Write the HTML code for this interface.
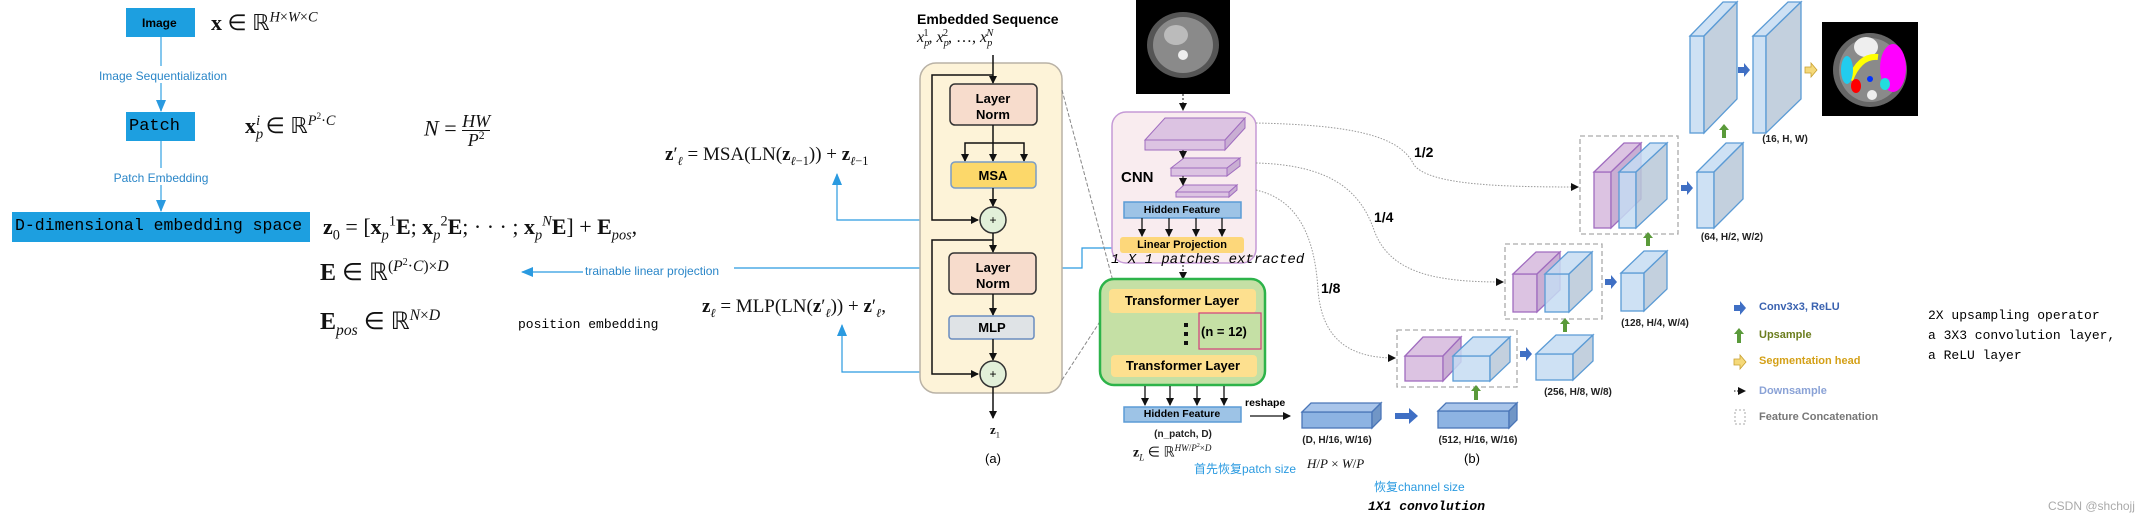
<!DOCTYPE html>
<html><head><meta charset="utf-8"><style>
body{margin:0;width:2139px;height:531px;background:#fff;position:relative;overflow:hidden;font-family:"Liberation Sans","Noto Sans CJK SC",sans-serif}
.t{position:absolute;white-space:nowrap;line-height:1}
.m{font-family:"Liberation Serif",serif;font-size:22px;color:#111}
.m i{font-style:italic}
.m b{font-weight:bold}
.mono{font-family:"Liberation Mono","Noto Sans CJK SC",monospace}
.bl{color:#2a86c8;font-size:12px}
.sm{font-size:10px;font-weight:bold;color:#222}
.c{transform:translateX(-50%)}
sup,sub{font-size:65%;line-height:0}
</style></head><body>
<svg width="2139" height="531" style="position:absolute;left:0;top:0">
<defs>
<marker id="ab" markerWidth="8" markerHeight="8" refX="7" refY="4" orient="auto" markerUnits="userSpaceOnUse"><path d="M0,0L8,4L0,8z" fill="#111"/></marker>
<marker id="ablue" markerWidth="12" markerHeight="10" refX="11" refY="5" orient="auto" markerUnits="userSpaceOnUse"><path d="M0,0L12,5L0,10z" fill="#2a9ae0"/></marker>
</defs>
<!-- left flow -->
<rect x="126" y="8" width="69" height="29" fill="#1d9fe0"/>
<rect x="126" y="112" width="69" height="29" fill="#1d9fe0"/>
<rect x="12" y="212" width="298" height="30" fill="#1d9fe0"/>
<line x1="161" y1="37" x2="161" y2="66" stroke="#5ab4e8" stroke-width="1.5"/>
<line x1="161" y1="83" x2="161" y2="111" stroke="#5ab4e8" stroke-width="1.5" marker-end="url(#ablue)"/>
<line x1="161" y1="141" x2="161" y2="168" stroke="#5ab4e8" stroke-width="1.5"/>
<line x1="161" y1="185" x2="161" y2="211" stroke="#5ab4e8" stroke-width="1.5" marker-end="url(#ablue)"/>
<!-- trainable projection line -->
<polyline points="1116,248 1082,248 1082,268 734,268" fill="none" stroke="#2a9ae0" stroke-width="1.2"/>
<line x1="583" y1="272" x2="522" y2="272" stroke="#2a9ae0" stroke-width="1.2" marker-end="url(#ablue)"/>
<!-- blue feedback arrows -->
<polyline points="979,220 837,220 837,174" fill="none" stroke="#2a9ae0" stroke-width="1.2" marker-end="url(#ablue)"/>
<polyline points="979,372 842,372 842,325" fill="none" stroke="#2a9ae0" stroke-width="1.2" marker-end="url(#ablue)"/>
<!-- transformer block (a) -->
<rect x="920" y="63" width="142" height="330" rx="16" fill="#fdf3d8" stroke="#b9b2a6" stroke-width="1.5"/>
<line x1="993" y1="55" x2="993" y2="83" stroke="#111" stroke-width="1.5" marker-end="url(#ab)"/>
<polyline points="993,75 932,75 932,220 978,220" fill="none" stroke="#111" stroke-width="1.5" marker-end="url(#ab)"/>
<rect x="950" y="84" width="87" height="41" rx="5" fill="#f7dccc" stroke="#333" stroke-width="1.5"/>
<line x1="993" y1="125" x2="993" y2="161" stroke="#111" stroke-width="1.5" marker-end="url(#ab)"/>
<polyline points="965,161 965,143 1024,143 1024,161" fill="none" stroke="#111" stroke-width="1.5"/>
<path d="M961,154L965,162L969,154zM1020,154L1024,162L1028,154z" fill="#111"/>
<rect x="951" y="162" width="85" height="26" rx="4" fill="#fcd86a" stroke="#7a9cc6" stroke-width="1.5"/>
<line x1="993" y1="188" x2="993" y2="206" stroke="#111" stroke-width="1.5" marker-end="url(#ab)"/>
<circle cx="993" cy="220" r="13" fill="#e2f0d9" stroke="#333" stroke-width="1.5"/>
<line x1="993" y1="233" x2="993" y2="252" stroke="#111" stroke-width="1.5" marker-end="url(#ab)"/>
<polyline points="993,240 932,240 932,374 978,374" fill="none" stroke="#111" stroke-width="1.5" marker-end="url(#ab)"/>
<rect x="949" y="253" width="87" height="41" rx="5" fill="#f7dccc" stroke="#333" stroke-width="1.5"/>
<line x1="993" y1="294" x2="993" y2="315" stroke="#111" stroke-width="1.5" marker-end="url(#ab)"/>
<rect x="949" y="316" width="85" height="23" rx="3" fill="#dfe3e6" stroke="#6a8cbf" stroke-width="1.5"/>
<line x1="993" y1="339" x2="993" y2="360" stroke="#111" stroke-width="1.5" marker-end="url(#ab)"/>
<circle cx="993" cy="374" r="13" fill="#e2f0d9" stroke="#333" stroke-width="1.5"/>
<line x1="993" y1="387" x2="993" y2="418" stroke="#111" stroke-width="1.5" marker-end="url(#ab)"/>
<line x1="1062" y1="90" x2="1114" y2="285" stroke="#888" stroke-width="1" stroke-dasharray="4,2"/>
<line x1="1062" y1="380" x2="1114" y2="300" stroke="#888" stroke-width="1" stroke-dasharray="4,2"/>
<!-- CT image -->
<rect x="1136" y="0" width="94" height="94" fill="#000"/>
<ellipse cx="1183" cy="45" rx="36" ry="33" fill="#555"/>
<ellipse cx="1183" cy="45" rx="30" ry="28" fill="#8a8a8a"/>
<ellipse cx="1176" cy="35" rx="12" ry="10" fill="#bbb"/>
<circle cx="1183" cy="55" r="5" fill="#eee"/>
<line x1="1183" y1="94" x2="1183" y2="110" stroke="#111" stroke-dasharray="2,2" marker-end="url(#ab)"/>
<!-- CNN box -->
<rect x="1112" y="112" width="144" height="151" rx="14" fill="#f9ecef" stroke="#c59ad6" stroke-width="1.5"/>
<g fill="#dcc3e2" stroke="#a06cbf" stroke-width="1">
<rect x="1145" y="140" width="80" height="10"/><polygon points="1145,140 1165,118 1245,118 1225,140"/><polygon points="1225,140 1245,118 1245,128 1225,150" fill="#c9aed3"/>
<rect x="1171" y="168" width="56" height="8"/><polygon points="1171,168 1184,158 1240,158 1227,168"/><polygon points="1227,168 1240,158 1240,166 1227,176" fill="#c9aed3"/>
<rect x="1176" y="192" width="53" height="5"/><polygon points="1176,192 1184,185 1237,185 1229,192"/><polygon points="1229,192 1237,185 1237,190 1229,197" fill="#c9aed3"/>
</g>
<line x1="1183" y1="150" x2="1183" y2="158" stroke="#111" marker-end="url(#ab)"/>
<line x1="1183" y1="176" x2="1183" y2="185" stroke="#111" marker-end="url(#ab)"/>
<rect x="1124" y="202" width="117" height="16" fill="#9dc3e6" stroke="#5b9bd5" stroke-width="1.5"/>
<g stroke="#111" stroke-width="1.3">
<line x1="1142" y1="218" x2="1142" y2="236" marker-end="url(#ab)"/><line x1="1169" y1="218" x2="1169" y2="236" marker-end="url(#ab)"/><line x1="1196" y1="218" x2="1196" y2="236" marker-end="url(#ab)"/><line x1="1222" y1="218" x2="1222" y2="236" marker-end="url(#ab)"/>
</g>
<rect x="1120" y="237" width="124" height="16" rx="3" fill="#fdd77a"/>
<line x1="1183" y1="265" x2="1183" y2="279" stroke="#111" stroke-dasharray="2,2" marker-end="url(#ab)"/>
<!-- transformer green -->
<rect x="1100" y="279" width="165" height="106" rx="14" fill="#c5e0a5" stroke="#2db34a" stroke-width="2.5"/>
<rect x="1109" y="289" width="147" height="24" rx="4" fill="#fde08f"/>
<rect x="1111" y="355" width="146" height="22" rx="4" fill="#fde08f"/>
<rect x="1199" y="313" width="62" height="36" fill="none" stroke="#d43c7c" stroke-width="1.2"/>
<g fill="#111"><rect x="1184" y="323" width="4" height="4"/><rect x="1184" y="332" width="4" height="4"/><rect x="1184" y="341" width="4" height="4"/></g>
<g stroke="#111" stroke-width="1.3">
<line x1="1145" y1="386" x2="1145" y2="405" marker-end="url(#ab)"/><line x1="1170" y1="386" x2="1170" y2="405" marker-end="url(#ab)"/><line x1="1197" y1="386" x2="1197" y2="405" marker-end="url(#ab)"/><line x1="1224" y1="386" x2="1224" y2="405" marker-end="url(#ab)"/>
<line x1="1250" y1="416" x2="1290" y2="416" marker-end="url(#ab)"/>
</g>
<rect x="1124" y="407" width="117" height="15" fill="#9dc3e6" stroke="#5b9bd5" stroke-width="1.5"/>
<!-- dotted skip curves -->
<g fill="none" stroke="#999" stroke-width="1" stroke-dasharray="1.5,1.5">
<path d="M1256,123 C1350,125 1400,135 1414,165 C1430,185 1500,187 1578,187" marker-end="url(#ab)"/>
<path d="M1256,163 C1330,165 1360,190 1374,230 C1390,275 1440,282 1503,282" marker-end="url(#ab)"/>
<path d="M1256,190 C1300,200 1315,240 1318,290 C1322,340 1350,358 1395,358" marker-end="url(#ab)"/>
</g>
<!-- decoder cubes -->
<g stroke-width="1.3">
<g fill="#8db3e2" stroke="#4a76b8">
<rect x="1302" y="412" width="70" height="16"/><polygon points="1302,412 1311,403 1381,403 1372,412" fill="#a9c5ea"/><polygon points="1372,412 1381,403 1381,419 1372,428" fill="#7196c6"/>
<rect x="1438" y="411" width="71" height="17"/><polygon points="1438,411 1446,403 1517,403 1509,411" fill="#a9c5ea"/><polygon points="1509,411 1517,403 1517,420 1509,428" fill="#7196c6"/>
</g>
<g fill="#dcc3e2" stroke="#a06cbf">
<rect x="1405" y="356" width="38" height="25"/><polygon points="1405,356 1423,337 1461,337 1443,356"/><polygon points="1443,356 1461,337 1461,362 1443,381" fill="#c9aed3"/>
<rect x="1513" y="274" width="24" height="38"/><polygon points="1513,274 1536,252 1560,252 1537,274"/><polygon points="1537,274 1560,252 1560,290 1537,312" fill="#c9aed3"/>
<rect x="1594" y="172" width="17" height="56"/><polygon points="1594,172 1624,143 1641,143 1611,172"/><polygon points="1611,172 1641,143 1641,199 1611,228" fill="#c9aed3"/>
</g>
<g fill="#c5dcf2" stroke="#5b9bd5" fill-opacity="0.85">
<rect x="1453" y="356" width="37" height="25"/><polygon points="1453,356 1473,337 1510,337 1490,356"/><polygon points="1490,356 1510,337 1510,362 1490,381" fill="#b8c8d8"/>
<rect x="1536" y="354" width="37" height="26"/><polygon points="1536,354 1556,335 1593,335 1573,354"/><polygon points="1573,354 1593,335 1593,361 1573,380" fill="#b8c8d8"/>
<rect x="1545" y="274" width="24" height="38"/><polygon points="1545,274 1568,252 1592,252 1569,274"/><polygon points="1569,274 1592,252 1592,290 1569,312" fill="#b8c8d8"/>
<rect x="1621" y="273" width="23" height="38"/><polygon points="1621,273 1644,251 1667,251 1644,273"/><polygon points="1644,273 1667,251 1667,289 1644,311" fill="#b8c8d8"/>
<rect x="1619" y="172" width="17" height="56"/><polygon points="1619,172 1650,143 1667,143 1636,172"/><polygon points="1636,172 1667,143 1667,199 1636,228" fill="#b8c8d8"/>
<rect x="1697" y="172" width="17" height="56"/><polygon points="1697,172 1726,143 1743,143 1714,172"/><polygon points="1714,172 1743,143 1743,199 1714,228" fill="#b8c8d8"/>
<rect x="1690" y="36" width="14" height="97"/><polygon points="1690,36 1723,2 1737,2 1704,36"/><polygon points="1704,36 1737,2 1737,99 1704,133" fill="#b8c8d8"/>
<rect x="1753" y="36" width="13" height="97"/><polygon points="1753,36 1788,2 1801,2 1766,36"/><polygon points="1766,36 1801,2 1801,99 1766,133" fill="#b8c8d8"/>
</g>
</g>
<g fill="none" stroke="#aaa" stroke-width="1.3" stroke-dasharray="5,3">
<rect x="1397" y="330" width="120" height="57"/>
<rect x="1505" y="244" width="97" height="75"/>
<rect x="1580" y="136" width="98" height="98"/>
</g>
<!-- blue fat arrows -->
<g fill="#3f6fc4">
<path d="M1395,413h14v-5l9,8l-9,8v-5h-14z"/>
<path d="M1520,351h6v-4l6,7l-6,7v-4h-6z"/>
<path d="M1605,279h6v-4l6,7l-6,7v-4h-6z"/>
<path d="M1681,185h6v-4l6,7l-6,7v-4h-6z"/>
<path d="M1738,67h6v-4l6,7l-6,7v-4h-6z"/>
<path d="M1734,305h6v-4l6,7l-6,7v-4h-6z"/>
</g>
<path d="M1805,67h6v-4l6,7l-6,7v-4h-6z" fill="#f5d97a" stroke="#c8a030" stroke-width="0.8"/>
<path d="M1734,359h6v-4l6,7l-6,7v-4h-6z" fill="#f5d97a" stroke="#c8a030" stroke-width="0.8"/>
<g fill="#5a9a3a">
<path d="M1474,400v-9h-3l5,-6l5,6h-3v9z"/>
<path d="M1563,332v-8h-3l5,-6l5,6h-3v8z"/>
<path d="M1646,246v-8h-3l5,-6l5,6h-3v8z"/>
<path d="M1722,138v-8h-3l5,-6l5,6h-3v8z"/>
<path d="M1737,343v-9h-3l5,-6l5,6h-3v9z"/>
</g>
<line x1="1734" y1="391" x2="1745" y2="391" stroke="#111" stroke-dasharray="1.5,1.5" marker-end="url(#ab)"/>
<rect x="1735" y="410" width="10" height="14" fill="none" stroke="#aaa" stroke-dasharray="2,2"/>
<!-- segmentation output -->
<rect x="1822" y="22" width="96" height="94" fill="#000"/>
<ellipse cx="1870" cy="70" rx="37" ry="37" fill="#666"/>
<ellipse cx="1870" cy="70" rx="31" ry="32" fill="#8a8a8a"/>
<ellipse cx="1866" cy="47" rx="12" ry="10" fill="#eee"/>
<ellipse cx="1893" cy="68" rx="13" ry="24" fill="#ff00ff"/>
<path d="M1850,80 Q1860,55 1878,57" stroke="#ffff00" stroke-width="6" fill="none"/>
<ellipse cx="1847" cy="70" rx="6" ry="14" fill="#22ccee"/>
<ellipse cx="1856" cy="86" rx="5" ry="7" fill="#ff0000"/>
<ellipse cx="1885" cy="84" rx="5" ry="6" fill="#22dddd"/>
<circle cx="1870" cy="79" r="3" fill="#0033ff"/>
<circle cx="1872" cy="95" r="5" fill="#eee"/>
</svg>

<!-- left texts -->
<div class="t" style="left:142px;top:17px;font-size:12px;font-weight:bold">Image</div>
<div class="t bl c" style="left:163px;top:69px;background:#fff;padding:1px 0">Image Sequentialization</div>
<div class="t mono" style="left:129px;top:118px;font-size:17px">Patch</div>
<div class="t bl c" style="left:161px;top:171px;background:#fff;padding:1px 0">Patch Embedding</div>
<div class="t mono" style="left:15px;top:218px;font-size:16.5px">D-dimensional embedding space</div>
<div class="t m" style="left:211px;top:12px"><b>x</b> ∈ ℝ<sup><i>H</i>×<i>W</i>×<i>C</i></sup></div>
<div class="t m" style="left:245px;top:115px"><b>x</b><sub><i>p</i></sub><sup style="margin-left:-7px"><i>i</i></sup> ∈ ℝ<sup><i>P</i><sup>2</sup>·<i>C</i></sup></div>
<div class="t m" style="left:424px;top:112px"><i>N</i> = <span style="display:inline-block;vertical-align:middle;text-align:center;font-size:18px;line-height:1"><span style="display:block;border-bottom:1px solid #111"><i>HW</i></span><i>P</i><sup>2</sup></span></div>
<div class="t m" style="left:323px;top:216px"><b>z</b><sub>0</sub> = [<b>x</b><sub><i>p</i></sub><sup>1</sup><b>E</b>; <b>x</b><sub><i>p</i></sub><sup>2</sup><b>E</b>; · · · ; <b>x</b><sub><i>p</i></sub><sup><i>N</i></sup><b>E</b>] + <b>E</b><sub><i>pos</i></sub>,</div>
<div class="t m" style="left:320px;top:261px;font-size:24px"><b>E</b> ∈ ℝ<sup>(<i>P</i><sup>2</sup>·<i>C</i>)×<i>D</i></sup></div>
<div class="t bl" style="left:585px;top:265px">trainable linear projection</div>
<div class="t m" style="left:320px;top:310px;font-size:24px"><b>E</b><sub><i>pos</i></sub> ∈ ℝ<sup><i>N</i>×<i>D</i></sup></div>
<div class="t mono" style="left:518px;top:318px;font-size:13px">position embedding</div>
<div class="t m" style="left:665px;top:145px;font-size:19px"><b>z</b>′<sub><i>ℓ</i></sub> = MSA(LN(<b>z</b><sub><i>ℓ</i>−1</sub>)) + <b>z</b><sub><i>ℓ</i>−1</sub></div>
<div class="t m" style="left:702px;top:297px;font-size:19px"><b>z</b><sub><i>ℓ</i></sub> = MLP(LN(<b>z</b>′<sub><i>ℓ</i></sub>)) + <b>z</b>′<sub><i>ℓ</i></sub>,</div>
<!-- (a) texts -->
<div class="t" style="left:917px;top:12px;font-size:14px;font-weight:bold">Embedded Sequence</div>
<div class="t m" style="left:917px;top:30px;font-size:16px"><i>x</i><sub><i>p</i></sub><sup style="margin-left:-6px">1</sup>, <i>x</i><sub><i>p</i></sub><sup style="margin-left:-6px">2</sup>, …, <i>x</i><sub><i>p</i></sub><sup style="margin-left:-6px"><i>N</i></sup></div>
<div class="t c" style="left:993px;top:91px;font-size:13px;font-weight:bold;text-align:center;line-height:16px">Layer<br>Norm</div>
<div class="t c" style="left:993px;top:169px;font-size:13px;font-weight:bold">MSA</div>
<div class="t c" style="left:993px;top:214px;font-size:12px">+</div>
<div class="t c" style="left:993px;top:260px;font-size:13px;font-weight:bold;text-align:center;line-height:16px">Layer<br>Norm</div>
<div class="t c" style="left:992px;top:321px;font-size:13px;font-weight:bold">MLP</div>
<div class="t c" style="left:993px;top:368px;font-size:12px">+</div>
<div class="t m c" style="left:995px;top:423px;font-size:13px"><b>z</b><sub>1</sub></div>
<div class="t c" style="left:993px;top:452px;font-size:13px">(a)</div>
<!-- CNN / transformer texts -->
<div class="t" style="left:1121px;top:170px;font-size:15px;font-weight:bold">CNN</div>
<div class="t c" style="left:1182px;top:205px;font-size:10.5px;font-weight:bold">Hidden Feature</div>
<div class="t c" style="left:1182px;top:240px;font-size:11px;font-weight:bold">Linear Projection</div>
<div class="t mono" style="left:1111px;top:253px;font-size:14px;font-style:italic">1 X 1 patches extracted</div>
<div class="t c" style="left:1182px;top:294px;font-size:13px;font-weight:bold">Transformer Layer</div>
<div class="t" style="left:1201px;top:325px;font-size:13px;font-weight:bold">(n = 12)</div>
<div class="t c" style="left:1183px;top:359px;font-size:13px;font-weight:bold">Transformer Layer</div>
<div class="t c" style="left:1182px;top:409px;font-size:10.5px;font-weight:bold">Hidden Feature</div>
<div class="t" style="left:1245px;top:398px;font-size:10.5px;font-weight:bold">reshape</div>
<div class="t c sm" style="left:1183px;top:430px">(n_patch, D)</div>
<div class="t m" style="left:1133px;top:446px;font-size:14px"><b>z</b><sub><i>L</i></sub> ∈ ℝ<sup><i>HW</i>/<i>P</i><sup>2</sup>×<i>D</i></sup></div>
<div class="t" style="left:1194px;top:463px;font-size:12px;color:#2a9ae0">首先恢复patch size</div>
<div class="t m" style="left:1307px;top:457px;font-size:13px"><i>H</i>/<i>P</i> × <i>W</i>/<i>P</i></div>
<div class="t" style="left:1374px;top:481px;font-size:12px;color:#2a9ae0">恢复channel size</div>
<div class="t mono" style="left:1368px;top:500px;font-size:13px;font-weight:bold;font-style:italic">1X1 convolution</div>
<!-- (b) labels -->
<div class="t c sm" style="left:1337px;top:436px">(D, H/16, W/16)</div>
<div class="t c sm" style="left:1478px;top:436px">(512, H/16, W/16)</div>
<div class="t c" style="left:1472px;top:452px;font-size:13px">(b)</div>
<div class="t c sm" style="left:1578px;top:388px">(256, H/8, W/8)</div>
<div class="t c sm" style="left:1655px;top:319px">(128, H/4, W/4)</div>
<div class="t c sm" style="left:1732px;top:233px">(64, H/2, W/2)</div>
<div class="t c sm" style="left:1785px;top:135px">(16, H, W)</div>
<div class="t" style="left:1414px;top:145px;font-size:14px;font-weight:bold">1/2</div>
<div class="t" style="left:1374px;top:210px;font-size:14px;font-weight:bold">1/4</div>
<div class="t" style="left:1321px;top:281px;font-size:14px;font-weight:bold">1/8</div>
<!-- legend -->
<div class="t" style="left:1759px;top:302px;font-size:11px;font-weight:bold;color:#3a62b0">Conv3x3, ReLU</div>
<div class="t" style="left:1759px;top:330px;font-size:11px;font-weight:bold;color:#6b7d1e">Upsample</div>
<div class="t" style="left:1759px;top:356px;font-size:11px;font-weight:bold;color:#d4a017">Segmentation head</div>
<div class="t" style="left:1759px;top:386px;font-size:11px;font-weight:bold;color:#8aa2d6">Downsample</div>
<div class="t" style="left:1759px;top:412px;font-size:11px;font-weight:bold;color:#777">Feature Concatenation</div>
<div class="t mono" style="left:1928px;top:306px;font-size:13px;line-height:20px">2X upsampling operator<br>a 3X3 convolution layer,<br>a ReLU layer</div>
<div class="t" style="left:2048px;top:500px;font-size:12px;color:#aaa">CSDN @shchojj</div>
</body></html>
